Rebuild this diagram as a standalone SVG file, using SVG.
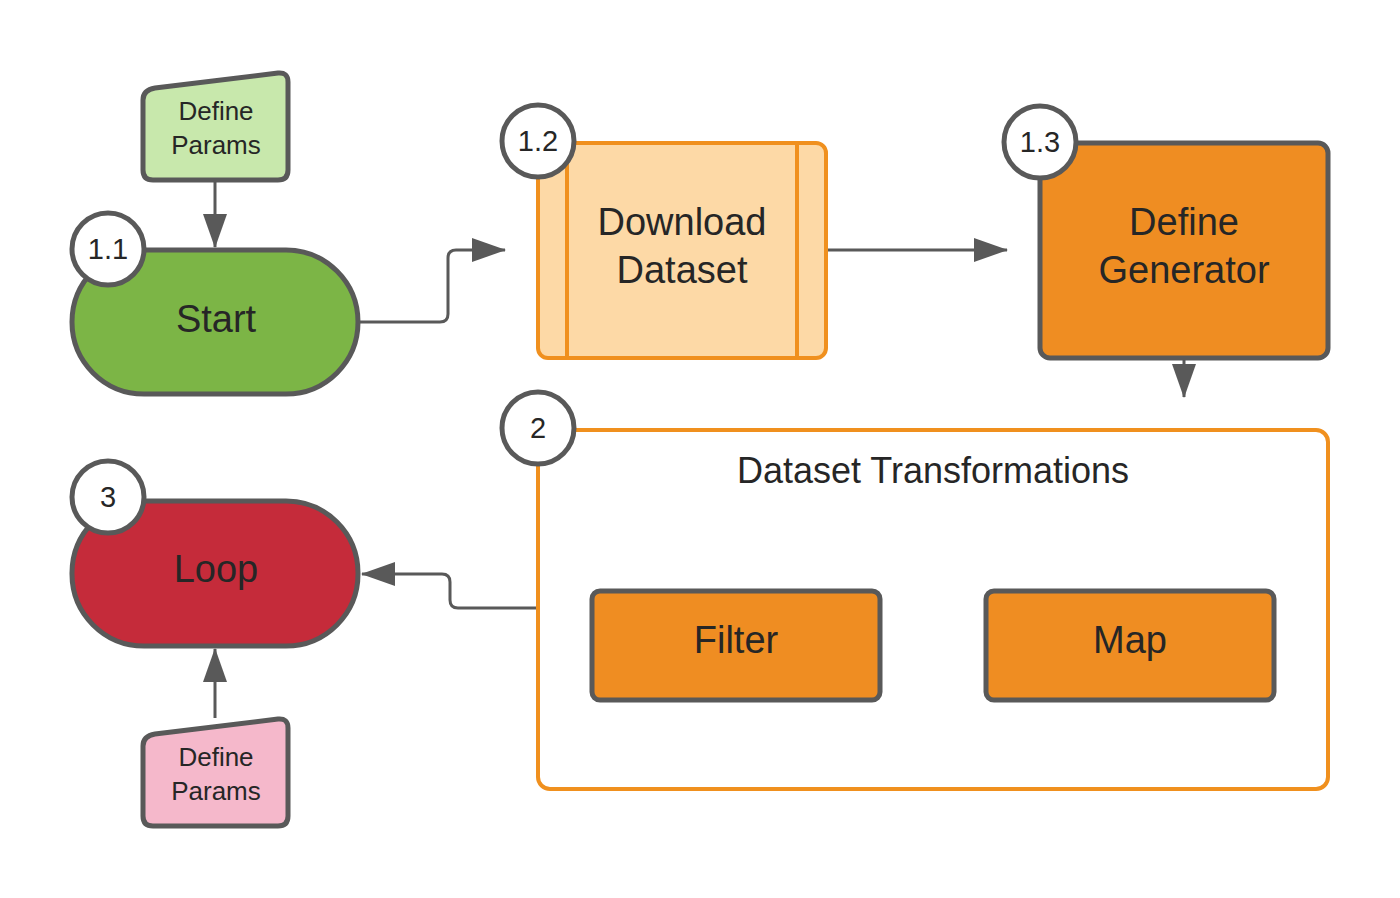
<svg xmlns="http://www.w3.org/2000/svg" width="1400" height="898" viewBox="0 0 1400 898">
<style>
text{font-family:"Liberation Sans",Arial,sans-serif;fill:#262626;text-anchor:middle}
.g{stroke:#595959;stroke-width:5}
.o{stroke:#F0901E;stroke-width:4}
.c{fill:#fff;stroke:#595959;stroke-width:5}
.ln{fill:none;stroke:#595959;stroke-width:3;stroke-linejoin:round}
.b{font-size:38px}.n{font-size:29px}.s{font-size:26px}
</style>
<defs><marker id="a" markerWidth="12" markerHeight="12" refX="11" refY="6" orient="auto" markerUnits="userSpaceOnUse" viewBox="0 0 12 12"><path d="M0,0 L12,6 L0,12 z" fill="#595959"/></marker>
<marker id="A" markerWidth="34" markerHeight="24" refX="33" refY="12" orient="auto" markerUnits="userSpaceOnUse"><path d="M0,0 L34,12 L0,24 z" fill="#595959"/></marker></defs>
<g id="connectors">
<path class="ln" d="M358,322 H440 Q448,322 448,314 V258 Q448,250 456,250 H505" marker-end="url(#A)"/>
<path class="ln" d="M826,250 H1007" marker-end="url(#A)"/>
<path class="ln" d="M1184,358 V397" marker-end="url(#A)"/>
<path class="ln" d="M536,608 H458 Q450,608 450,600 V582 Q450,574 442,574 H362" marker-end="url(#A)"/>
<path class="ln" d="M1130,589 V548 Q1130,540 1122,540 H744 Q736,540 736,548 V589" marker-end="url(#A)"/>
<path class="ln" d="M736,702 V744 Q736,752 744,752 H1115 Q1123,752 1123,744 V704" marker-end="url(#A)"/>
<path class="ln" d="M215,180 V247" marker-end="url(#A)"/>
<path class="ln" d="M215,718 V649" marker-end="url(#A)"/>
</g>
<g id="params1"><path class="g" fill="#C8E8AC" d="M155,88 L278,73 Q288,72 288,82 V170 Q288,180 278,180 H153 Q143,180 143,170 V100 Q143,90 155,88 Z"/><text class="s" x="216" y="120">Define</text><text class="s" x="216" y="154">Params</text></g>
<g id="start"><rect class="g" fill="#7CB546" x="72" y="250" width="286" height="144" rx="72"/><text class="b" x="216" y="332">Start</text><circle class="c" cx="108" cy="249" r="36"/><text class="n" x="108" y="259">1.1</text></g>
<g id="download"><rect class="o" fill="#FDD9A6" x="538" y="143" width="288" height="215" rx="10"/><path class="o" d="M567,143 V358 M797,143 V358"/><text class="b" x="682" y="235">Download</text><text class="b" x="682" y="283">Dataset</text><circle class="c" cx="538" cy="141" r="36"/><text class="n" x="538" y="151">1.2</text></g>
<g id="generator"><rect class="g" fill="#EF8D22" x="1040" y="143" width="288" height="215" rx="10"/><text class="b" x="1184" y="235">Define</text><text class="b" x="1184" y="283">Generator</text><circle class="c" cx="1040" cy="142" r="36"/><text class="n" x="1040" y="152">1.3</text></g>
<g id="transformations"><rect class="o" fill="#fff" x="538" y="430" width="790" height="359" rx="12"/><text x="933" y="483" font-size="36">Dataset Transformations</text><circle class="c" cx="538" cy="428" r="36"/><text class="n" x="538" y="438">2</text></g>
<g id="filter"><rect class="g" fill="#EF8D22" x="592" y="591" width="288" height="109" rx="8"/><text class="b" x="736" y="653">Filter</text></g>
<g id="map"><rect class="g" fill="#EF8D22" x="986" y="591" width="288" height="109" rx="8"/><text class="b" x="1130" y="653">Map</text></g>
<g id="loop"><rect class="g" fill="#C52B3A" x="72" y="501" width="286" height="145" rx="72"/><text class="b" x="216" y="582">Loop</text><circle class="c" cx="108" cy="497" r="36"/><text class="n" x="108" y="507">3</text></g>
<g id="params2"><path class="g" fill="#F5B8CB" d="M155,734 L278,719 Q288,718 288,728 V816 Q288,826 278,826 H153 Q143,826 143,816 V746 Q143,736 155,734 Z"/><text class="s" x="216" y="766">Define</text><text class="s" x="216" y="800">Params</text></g>
</svg>
